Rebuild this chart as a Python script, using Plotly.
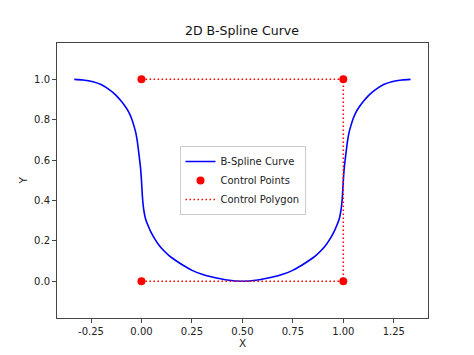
import plotly.graph_objects as go

# B-spline curve
curve_x = [-0.333, -0.290, -0.240, -0.200, -0.153, -0.127, -0.104, -0.082, -0.063, -0.049,
           -0.038, -0.028, -0.021, -0.012, -0.005,
           0.0, 0.004, 0.008, 0.013, 0.020, 0.032, 0.047, 0.065, 0.086, 0.110, 0.138,
           0.168, 0.208, 0.251, 0.300, 0.350, 0.425, 0.5,
           0.575, 0.650, 0.700, 0.749, 0.792, 0.832, 0.862, 0.890, 0.914, 0.935, 0.953,
           0.968, 0.980, 0.987, 0.992, 0.996,
           1.0, 1.005, 1.012, 1.021, 1.028, 1.038, 1.049, 1.063, 1.082, 1.104, 1.127,
           1.153, 1.200, 1.240, 1.290, 1.333]
curve_y = [1.0, 0.997, 0.988, 0.974, 0.944, 0.922, 0.896, 0.868, 0.838, 0.806,
           0.772, 0.735, 0.695, 0.625, 0.565,
           0.5, 0.430, 0.380, 0.343, 0.310, 0.277, 0.243, 0.211, 0.180, 0.152, 0.126,
           0.104, 0.078, 0.054, 0.035, 0.021, 0.006, 0.0,
           0.006, 0.021, 0.035, 0.054, 0.078, 0.104, 0.126, 0.152, 0.180, 0.211, 0.243,
           0.277, 0.310, 0.343, 0.380, 0.430,
           0.5, 0.565, 0.625, 0.695, 0.735, 0.772, 0.806, 0.838, 0.868, 0.896, 0.922,
           0.944, 0.974, 0.988, 0.997, 1.0]

# Control points / polygon
ctrl_x = [0, 1, 1, 0]
ctrl_y = [0, 0, 1, 1]

x_ticks = [-0.25, 0.0, 0.25, 0.5, 0.75, 1.0, 1.25]
y_ticks = [0.0, 0.2, 0.4, 0.6, 0.8, 1.0]

FONT = "DejaVu Sans"

fig = go.Figure()
fig.add_trace(go.Scatter(x=curve_x, y=curve_y, mode="lines", name="B-Spline Curve",
                         line=dict(color="#0000ff", width=1.6, shape="spline", smoothing=0.7)))
fig.add_trace(go.Scatter(x=ctrl_x, y=ctrl_y, mode="markers", name="Control Points",
                         marker=dict(color="#ff0000", size=8)))
fig.add_trace(go.Scatter(x=ctrl_x, y=ctrl_y, mode="lines", name="Control Polygon",
                         line=dict(color="#ff0000", width=1.5, dash="1.5px,2.5px")))

axis_common = dict(showgrid=False, zeroline=False, showline=True, linecolor="#444",
                   linewidth=1, mirror=True, ticks="outside", ticklen=4, tickcolor="#444",
                   automargin=False,
                   tickfont=dict(family=FONT, size=10, color="#222"))

# page body has an 8px margin, so the figure is offset by 8px
fig.update_layout(
    width=466, height=347,
    margin=dict(l=49, r=46, t=35, b=37),
    paper_bgcolor="white", plot_bgcolor="white",
    title=dict(text="2D B-Spline Curve", x=0.502, xanchor="center", y=0.935, yanchor="middle",
               font=dict(family=FONT, size=12.5, color="#111")),
    xaxis=dict(range=[-0.4185, 1.4195], tickvals=x_ticks,
               ticktext=[f"{v:.2f}" for v in x_ticks], **axis_common),
    yaxis=dict(range=[-0.182, 1.180], tickvals=y_ticks,
               ticktext=[f"{v:.1f}" for v in y_ticks], **axis_common),
    annotations=[
        dict(text="X", xref="paper", yref="paper", x=0.5, y=0, yshift=-25,
             xanchor="center", yanchor="middle", showarrow=False,
             font=dict(family=FONT, size=10.5, color="#222")),
        dict(text="Y", xref="paper", yref="paper", x=0, y=0.5, xshift=-35,
             xanchor="center", yanchor="middle", showarrow=False, textangle=-90,
             font=dict(family=FONT, size=10.5, color="#222")),
    ],
    legend=dict(x=0.5, y=0.5, xanchor="center", yanchor="middle",
                bgcolor="rgba(255,255,255,0.8)", bordercolor="#cccccc", borderwidth=1,
                font=dict(family=FONT, size=10, color="#222"), tracegroupgap=0,
                itemwidth=30),
    showlegend=True,
)

fig.write_html("out.html")
